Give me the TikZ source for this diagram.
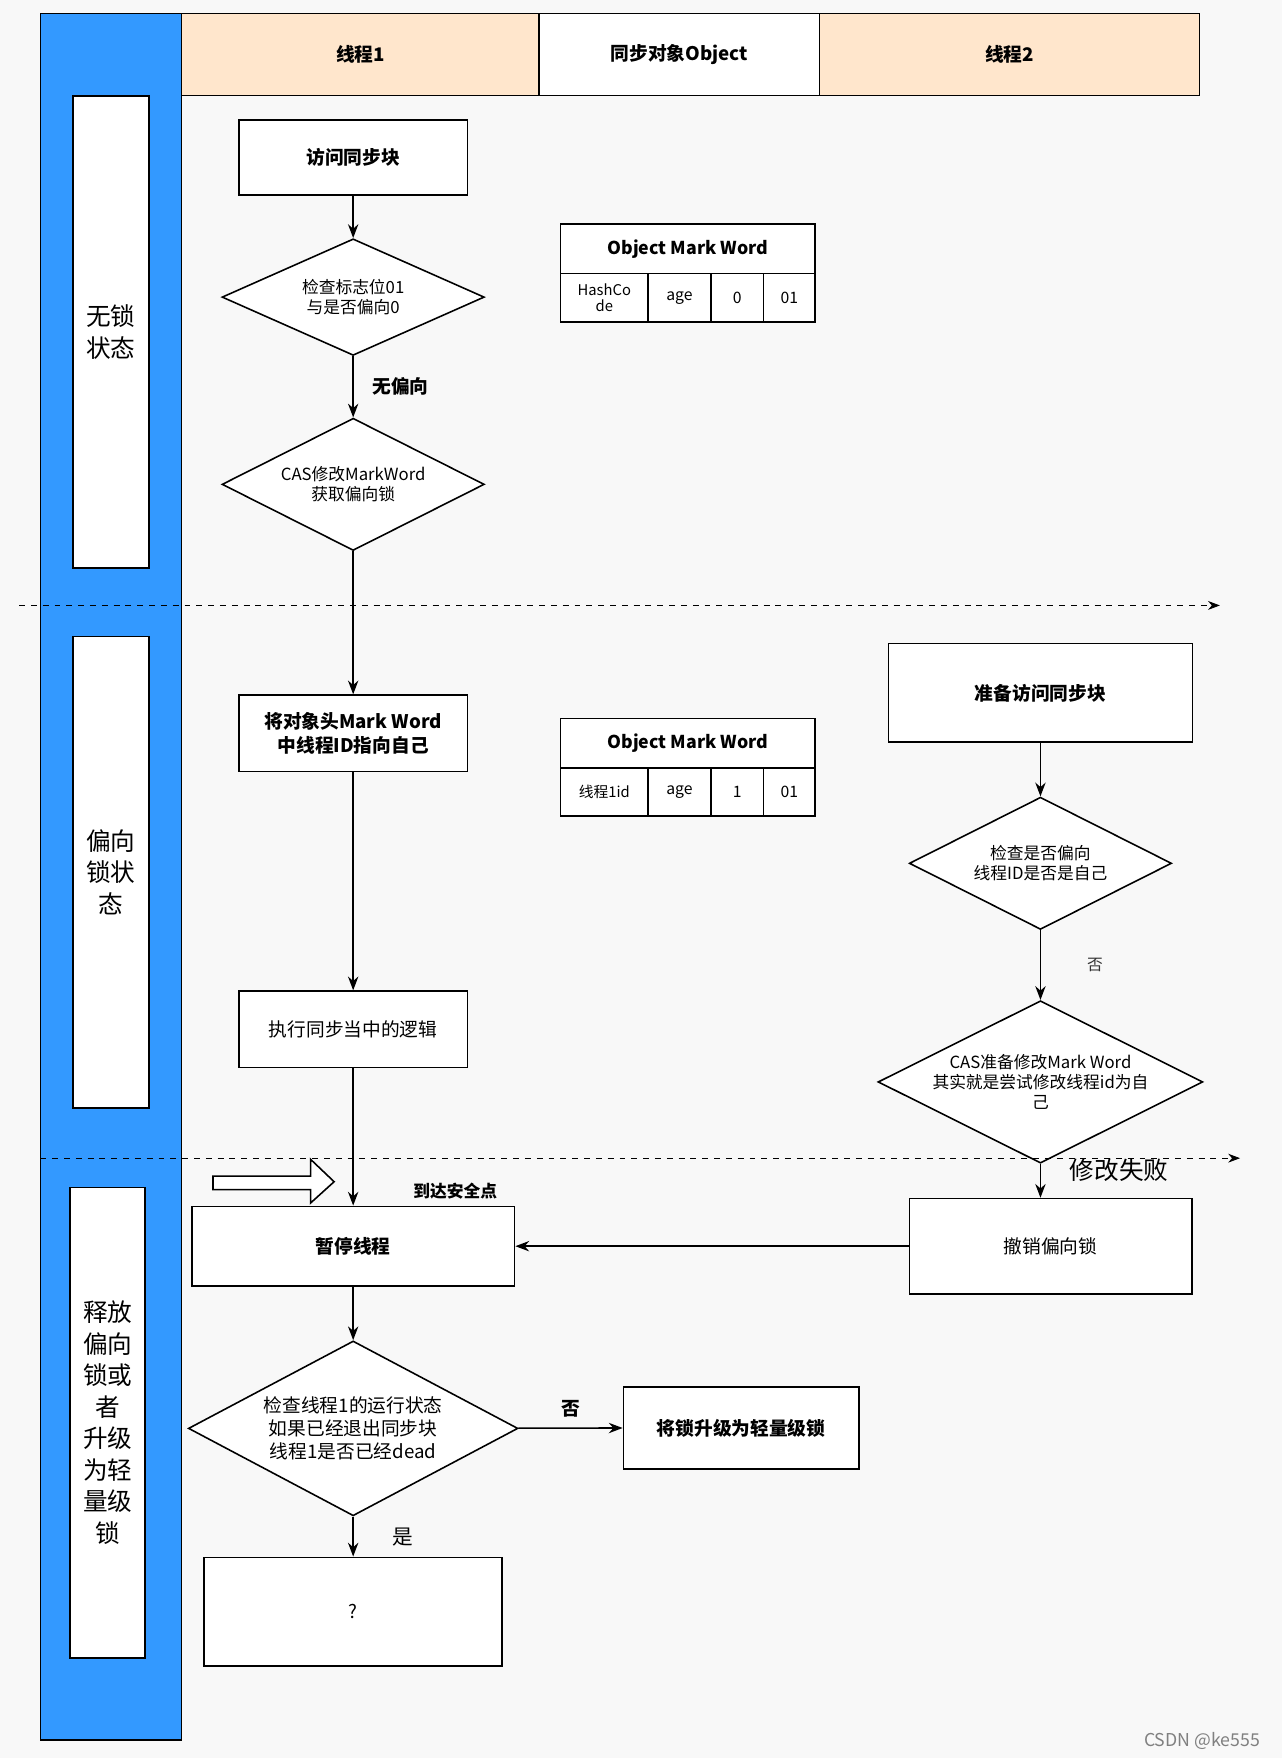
\documentclass[tikz,border=0pt]{standalone}
\usepackage{fontspec}
\setmainfont{Noto Sans CJK SC}
\usetikzlibrary{positioning,shapes.geometric,arrows.meta}
\definecolor{lanebl}{HTML}{3399FF}
\definecolor{heador}{HTML}{FFE6CC}
\definecolor{bggray}{HTML}{F8F8F8}
\tikzset{
  box/.style={draw,thick,fill=white,inner sep=0pt,align=center,font=\fontsize{9.5}{12}\selectfont},
  bbox/.style={box,font=\fontsize{9.5}{12}\selectfont\bfseries},
  dia/.style={diamond,draw,thick,fill=white,inner sep=0pt,align=center,font=\fontsize{8.5}{10}\selectfont},
  flow/.style={thick,-{Stealth[length=7pt]}},
  lbl/.style={font=\fontsize{9.5}{12}\selectfont\bfseries},
  lane/.style={draw,thick,fill=white,align=center,font=\fontsize{12.5}{16}\selectfont},
}
\begin{document}
\begin{tikzpicture}[x=0.02cm,y=-0.02cm]
  \useasboundingbox[fill=bggray] (0,0) rectangle (1143,1568);

  % Swim lanes
  \fill[lanebl] (36,12) rectangle (162,1552);
  \draw[thick] (36,12) rectangle (162,1552);
  \node[lane,minimum width=1.36cm,minimum height=8.42cm] (l1) at (99,296) {无锁\\状态};
  \node[lane,minimum width=1.36cm,minimum height=8.42cm] (l2) at (99,778) {偏向\\锁状\\态};
  \node[lane,minimum width=1.34cm,minimum height=8.4cm] (l3) at (96,1269) {释放\\偏向\\锁或\\者\\升级\\为轻\\量级\\锁};

  % Header
  \node[bbox,fill=heador,minimum width=6.38cm,minimum height=1.46cm] (h1) at (321.5,48.5) {线程1};
  \node[bbox,minimum width=5cm,minimum height=1.46cm] (h2) at (606,48.5) {同步对象Object};
  \node[bbox,fill=heador,minimum width=6.78cm,minimum height=1.46cm] (h3) at (900.5,48.5) {线程2};

  % Thread 1
  \node[bbox,minimum width=4.08cm,minimum height=1.34cm] (visit) at (315,140.5) {访问同步块};
  \node[dia,minimum width=4.68cm,minimum height=2.08cm,aspect=2.25] (check) at (315,265) {检查标志位01\\与是否偏向0};
  \node[dia,minimum width=4.68cm,minimum height=2.36cm,aspect=2] (cas) at (315,432) {CAS修改MarkWord\\获取偏向锁};
  \node[bbox,minimum width=4.08cm,minimum height=1.36cm] (point) at (315,654) {将对象头Mark Word\\中线程ID指向自己};
  \node[box,minimum width=4.08cm,minimum height=1.36cm] (exec) at (315,918) {执行同步当中的逻辑};
  \node[bbox,minimum width=5.76cm,minimum height=1.42cm] (pause) at (315,1111.5) {暂停线程};
  \node[dia,minimum width=5.88cm,minimum height=3.12cm,aspect=1.9,font=\fontsize{9.5}{11.5}\selectfont] (alive) at (315,1274) {检查线程1的运行状态\\如果已经退出同步块\\线程1是否已经dead};
  \node[bbox,minimum width=4.2cm,minimum height=1.46cm] (upgrade) at (661,1273.5) {将锁升级为轻量级锁};
  \node[box,minimum width=5.32cm,minimum height=1.94cm] (unk) at (315,1437.5) {?};

  % Thread 2
  \node[bbox,minimum width=5.42cm,minimum height=1.76cm] (ready) at (928,618) {准备访问同步块};
  \node[dia,minimum width=4.68cm,minimum height=2.36cm,aspect=2] (self) at (928,770) {检查是否偏向\\线程ID是否是自己};
  \node[dia,minimum width=4.68cm,minimum height=2.36cm,aspect=2] (cas2) at (928,965) {CAS准备修改Mark Word\\其实就是尝试修改线程id为自\\己};
  \node[box,minimum width=5.04cm,minimum height=1.7cm] (revoke) at (937,1111.5) {撤销偏向锁};

  % Mark Word tables
  \foreach \t/\y/\a/\b in {t1/200/HashCo\\de/0, t2/641/线程1id/1} {
    \draw[thick,fill=white] (500,\y) rectangle (727,\y+87);
    \draw[thick] (500,\y+44) -- (727,\y+44);
    \foreach \x in {578,634,681} \draw[thick] (\x,\y+44) -- (\x,\y+87);
    \node[lbl,font=\fontsize{9}{11}\selectfont\bfseries] (\t h) at (613.5,\y+22) {Object Mark Word};
    \node[align=center,font=\fontsize{7.5}{8}\selectfont] (\t a) at (539,\y+65.5) {\a};
    \node[font=\fontsize{8}{10}\selectfont] (\t b) at (606,\y+65.5) {age};
    \node[font=\fontsize{8}{10}\selectfont] (\t c) at (657.5,\y+65.5) {\b};
    \node[font=\fontsize{8}{10}\selectfont] (\t d) at (704,\y+65.5) {01};
  }

  % Dashed separators
  \coordinate (s1a) at (17,540); \coordinate (s1b) at (1088,540);
  \coordinate (s2a) at (36,1033); \coordinate (s2b) at (1106,1033);
  \draw[dashed,-{Stealth[length=6pt]}] (s1a) -- (s1b);
  \draw[dashed,-{Stealth[length=6pt]}] (s2a) -- (s2b);

  % Connectors
  \draw[flow] (visit) -- (check);
  \draw[flow] (check) -- node[lbl,right=6pt] {无偏向} (cas);
  \draw[flow] (cas) -- (point);
  \draw[flow] (point) -- (exec);
  \draw[flow] (exec) -- (pause);
  \draw[flow] (ready) -- (self);
  \draw[flow] (self) -- node[right=20pt,font=\fontsize{8}{10}\selectfont,gray!40!black] {否} (cas2);
  \draw[flow] (cas2) -- (cas2 |- revoke.north);
  \node[font=\fontsize{12.5}{15}\selectfont,anchor=west] (fail) at (948,1044) {修改失败};
  \draw[flow] (revoke) -- (pause);
  \draw[flow] (pause) -- (alive);
  \draw[flow] (alive) -- node[lbl,above=2pt] {否} (upgrade);
  \draw[flow] (alive) -- node[right=16pt,font=\fontsize{10.5}{12}\selectfont] {是} (unk);

  % Safe point
  \draw[thick,fill=white] (190,1049) -- (277,1049) -- (277,1034) -- (298,1054) -- (277,1073) -- (277,1061) -- (190,1061) -- cycle;
  \node[lbl,font=\fontsize{8.5}{10}\selectfont\bfseries] (safe) at (406,1062) {到达安全点};

  \node[anchor=east,gray,font=\fontsize{9}{11}\selectfont] (wm) at (1130,1553) {CSDN @ke555};
\end{tikzpicture}
\end{document}
